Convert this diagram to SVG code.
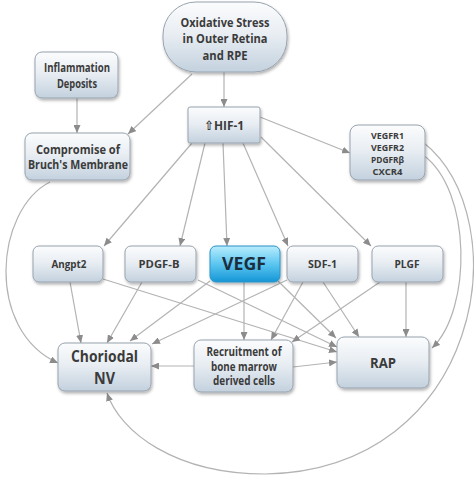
<svg xmlns="http://www.w3.org/2000/svg" width="474" height="478" viewBox="0 0 474 478">
<defs>
<linearGradient id="g" x1="0" y1="0" x2="0" y2="1">
<stop offset="0" stop-color="#fbfcfd"/>
<stop offset="0.45" stop-color="#e9eef3"/>
<stop offset="1" stop-color="#c3d1de"/>
</linearGradient>
<linearGradient id="gb" x1="0" y1="0" x2="0" y2="1">
<stop offset="0" stop-color="#b9ecfd"/>
<stop offset="0.5" stop-color="#5cc6f0"/>
<stop offset="1" stop-color="#1596d6"/>
</linearGradient>
<filter id="sh" x="-20%" y="-20%" width="140%" height="150%">
<feDropShadow dx="1" dy="2" stdDeviation="1.5" flood-color="#000" flood-opacity="0.3"/>
</filter>
<marker id="a" markerWidth="8" markerHeight="7" refX="8" refY="3.5" orient="auto" markerUnits="userSpaceOnUse">
<path d="M0,0 L8,3.5 L0,7 z" fill="#8c8c8c"/>
</marker>
</defs>
<style>
.n{fill:url(#g);stroke:#98a3ae;stroke-width:1;filter:url(#sh)}
.b{fill:url(#gb);stroke:#2a93c9;stroke-width:1;filter:url(#sh)}
text{font-family:"Open Sans","DejaVu Sans",sans-serif;font-weight:bold;fill:#3b3b3b;text-anchor:middle}
.c path{fill:none;stroke:#b3b3b3;stroke-width:1.2;marker-end:url(#a)}
</style>
<rect width="474" height="478" fill="#fff"/>
<g class="c" id="connectors">
<path d="M224,72 L224,107"/>
<path d="M192,74 L128,134"/>
<path d="M77,98 L77,133"/>
<path d="M260,117 L350,153"/>
<path d="M192,143 L104,246"/>
<path d="M205,143 L180,246"/>
<path d="M223,143 L227,246"/>
<path d="M243,143 L288,246"/>
<path d="M261,137 L371,246"/>
<path d="M70,282 L81,343"/>
<path d="M103,279 L337,352"/>
<path d="M142,282 L107,343"/>
<path d="M198,280 L337,347"/>
<path d="M210,281 L130,341"/>
<path d="M244,282 L244,340"/>
<path d="M278,281 L336,338"/>
<path d="M287,280 L152,344"/>
<path d="M303,282 L271,340"/>
<path d="M323,282 L359,337"/>
<path d="M380,282 L292,342"/>
<path d="M406,282 L406,337"/>
<path d="M194,366 L151,366"/>
<path d="M293,367 L337,362"/>
<path d="M50,182 C-5,210 -15,330 58,363"/>
<path d="M423,155 C472,190 472,310 432,348"/>
<path d="M423,142 C520,220 482,470 265,474 C175,474 120,432 107,393"/>
</g>
<g id="oxidative">
<rect class="n" x="163" y="2" width="124" height="70" rx="33"/>
<text font-size="13"><tspan x="225" y="26.5" textLength="89" lengthAdjust="spacingAndGlyphs">Oxidative Stress</tspan><tspan x="225" y="43" textLength="85" lengthAdjust="spacingAndGlyphs">in Outer Retina</tspan><tspan x="225" y="59.5" textLength="45" lengthAdjust="spacingAndGlyphs">and RPE</tspan></text>
</g>
<g id="inflammation">
<rect class="n" x="35" y="52" width="83" height="46" rx="7"/>
<text font-size="12"><tspan x="77" y="72" textLength="66" lengthAdjust="spacingAndGlyphs">Inflammation</tspan><tspan x="77" y="88" textLength="40" lengthAdjust="spacingAndGlyphs">Deposits</tspan></text>
</g>
<g id="bruch">
<rect class="n" x="25" y="133" width="105" height="47" rx="7"/>
<text font-size="12"><tspan x="78" y="153.5" textLength="84" lengthAdjust="spacingAndGlyphs">Compromise of</tspan><tspan x="78" y="169" textLength="100" lengthAdjust="spacingAndGlyphs">Bruch's Membrane</tspan></text>
</g>
<g id="hif1">
<rect class="n" x="188" y="107" width="72" height="36" rx="2"/>
<text font-size="13" x="224" y="129.5" textLength="40" lengthAdjust="spacingAndGlyphs">⇧HIF-1</text>
</g>
<g id="receptors">
<rect class="n" x="350" y="125" width="75" height="55" rx="8"/>
<text font-size="9.5"><tspan x="387.5" y="139" textLength="33" lengthAdjust="spacingAndGlyphs">VEGFR1</tspan><tspan x="387.5" y="151" textLength="33" lengthAdjust="spacingAndGlyphs">VEGFR2</tspan><tspan x="387.5" y="163" textLength="33" lengthAdjust="spacingAndGlyphs">PDGFRβ</tspan><tspan x="387.5" y="175" textLength="30" lengthAdjust="spacingAndGlyphs">CXCR4</tspan></text>
</g>
<g id="angpt2">
<rect class="n" x="33" y="246" width="70" height="36" rx="6"/>
<text font-size="11" x="69" y="268" textLength="35" lengthAdjust="spacingAndGlyphs">Angpt2</text>
</g>
<g id="pdgfb">
<rect class="n" x="125" y="246" width="71" height="36" rx="6"/>
<text font-size="11" x="159" y="268" textLength="41" lengthAdjust="spacingAndGlyphs">PDGF-B</text>
</g>
<g id="vegf">
<rect class="b" x="210" y="246" width="70" height="36" rx="6"/>
<text font-size="17" x="244" y="270" textLength="44" lengthAdjust="spacingAndGlyphs" style="fill:#1c2e3e">VEGF</text>
</g>
<g id="sdf1">
<rect class="n" x="287" y="246" width="71" height="36" rx="6"/>
<text font-size="11" x="322.5" y="268" textLength="29" lengthAdjust="spacingAndGlyphs">SDF-1</text>
</g>
<g id="plgf">
<rect class="n" x="372" y="246" width="71" height="36" rx="6"/>
<text font-size="11" x="407" y="268" textLength="25" lengthAdjust="spacingAndGlyphs">PLGF</text>
</g>
<g id="choriodal">
<rect class="n" x="58" y="343" width="93" height="48" rx="7"/>
<text font-size="16"><tspan x="104.5" y="362" textLength="67" lengthAdjust="spacingAndGlyphs">Choriodal</tspan><tspan x="104.5" y="383.5" textLength="21" lengthAdjust="spacingAndGlyphs">NV</tspan></text>
</g>
<g id="recruitment">
<rect class="n" x="194" y="340" width="99" height="52" rx="7"/>
<text font-size="11.5"><tspan x="244" y="356" textLength="75" lengthAdjust="spacingAndGlyphs">Recruitment of</tspan><tspan x="244" y="371" textLength="66" lengthAdjust="spacingAndGlyphs">bone marrow</tspan><tspan x="244" y="385" textLength="62" lengthAdjust="spacingAndGlyphs">derived cells</tspan></text>
</g>
<g id="rap">
<rect class="n" x="337" y="337" width="92" height="51" rx="7"/>
<text font-size="14" x="383" y="368" textLength="26" lengthAdjust="spacingAndGlyphs">RAP</text>
</g>
</svg>
